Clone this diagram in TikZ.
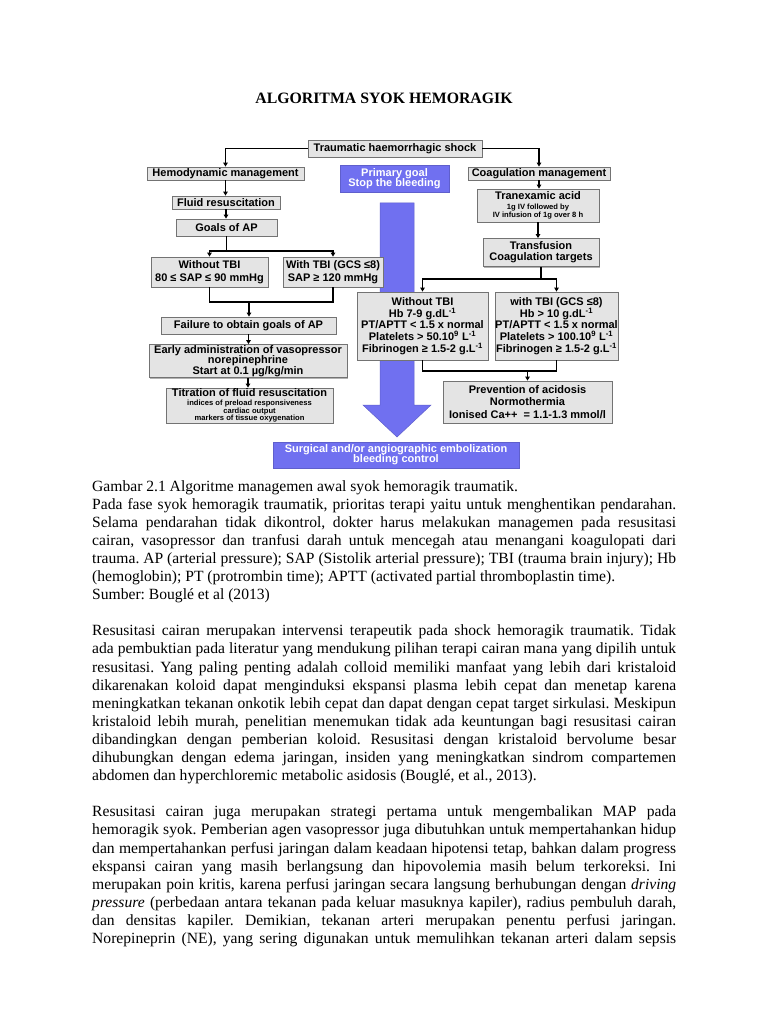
\documentclass[tikz,border=0pt]{standalone}
\usepackage{fontspec}
\setmainfont{Liberation Serif}
\newfontfamily\arialf{Liberation Sans}
\usetikzlibrary{arrows.meta,shadows}
\definecolor{boxgray}{RGB}{228,228,228}
\definecolor{boxedge}{RGB}{115,115,115}
\definecolor{blueb}{RGB}{112,112,240}
\newcommand\jline[1]{\hbox to 584pt{#1}}
\newcommand\lline[1]{\hbox{#1}}
\newcommand\smf{\fontsize{7.6}{8}\selectfont}
\begin{document}
\begin{tikzpicture}[x=1pt,y=-1pt,
  gbox/.style={draw=boxedge, fill=boxgray, line width=0.8pt, inner sep=0pt, align=center,
    font=\arialf\bfseries\fontsize{11}{12.8}\selectfont, text=black,
    drop shadow={shadow xshift=1.2pt, shadow yshift=-1.2pt, opacity=0.3, fill=black}},
  bbox/.style={fill=blueb, draw=blueb!85!black, line width=0.6pt, inner sep=0pt, align=center,
    text=white, font=\arialf\bfseries\fontsize{11}{12.8}\selectfont},
  conn/.style={draw=black, line width=1.2pt, -{Triangle[length=4pt,width=4.5pt]}},
  link/.style={draw=black, line width=1.2pt},
  bigarrow/.style={fill=blueb, draw=blueb!85!black, line width=0.5pt}
]
\useasboundingbox (0,0) rectangle (768,1024);
\fill[white] (0,0) rectangle (768,1024);

% title
\node[font=\bfseries\fontsize{15.8}{18}\selectfont, inner sep=0pt] (title) at (384,98) {ALGORITMA SYOK HEMORAGIK};

% big blue arrow
\fill[bigarrow] (380,203) -- (414,203) -- (414,405) -- (431,405) -- (397,437) -- (363,405) -- (380,405) -- cycle;

% boxes
\node[gbox, minimum width=174pt, minimum height=17pt] (shock) at (395,148.5) {Traumatic haemorrhagic shock};
\node[gbox, minimum width=157pt, minimum height=13pt] (hemo) at (225.5,173.5) {Hemodynamic management};
\node[gbox, minimum width=108pt, minimum height=13pt] (fluid) at (226,202.5) {Fluid resuscitation};
\node[gbox, minimum width=101pt, minimum height=17pt] (goals) at (226.5,227.5) {Goals of AP};
\node[gbox, minimum width=117pt, minimum height=30pt] (wo1) at (209.5,272) {Without TBI\\[0.5pt]80 ≤ SAP ≤ 90 mmHg};
\node[gbox, minimum width=100pt, minimum height=30pt] (w1) at (333,272) {With TBI (GCS ≤8)\\[0.5pt]SAP ≥ 120 mmHg};
\node[gbox, minimum width=175pt, minimum height=17pt] (fail) at (248.5,325.5) {Failure to obtain goals of AP};
\node[gbox, minimum width=198pt, minimum height=33pt] (early) at (248,361) {Early administration of vasopressor\\[-2.6pt]norepinephrine\\[-2.6pt]Start at 0.1 µg/kg/min};
\node[gbox, minimum width=167pt, minimum height=35pt] (titr) at (249.5,405.5) {Titration of fluid resuscitation\\[-3.8pt]{\smf indices of preload responsiveness}\\[-5.6pt]{\smf cardiac output}\\[-5.6pt]{\smf markers of tissue oxygenation}};

\node[bbox, minimum width=109pt, minimum height=27pt] (goal) at (394.5,178.5) {Primary goal\\[-2.8pt]Stop the bleeding};
\node[bbox, minimum width=246pt, minimum height=26pt] (surg) at (396,455) {Surgical and/or angiographic embolization\\[-2.8pt]bleeding control};

\node[gbox, minimum width=142pt, minimum height=13pt] (coag) at (539,173.5) {Coagulation management};
\node[gbox, minimum width=122pt, minimum height=33pt] (tranex) at (538,205.5) {Tranexamic acid\\[-2.8pt]{\smf 1g IV followed by}\\[-5.2pt]{\smf IV infusion of 1g over 8 h}};
\node[gbox, minimum width=116pt, minimum height=28pt] (transf) at (541,252.5) {Transfusion\\[-1.8pt]Coagulation targets};
\node[gbox, minimum width=131pt, minimum height=68pt] (wo2) at (422.5,326) {Without TBI\\[-1pt]Hb 7-9 g.dL\textsuperscript{-1}\\[-1pt]PT/APTT < 1.5 x normal\\[-1pt]Platelets > 50.10\textsuperscript{9} L\textsuperscript{-1}\\[-1pt]Fibrinogen ≥ 1.5-2 g.L\textsuperscript{-1}};
\node[gbox, minimum width=123pt, minimum height=68pt] (w2) at (556.5,326) {with TBI (GCS ≤8)\\[-1pt]Hb > 10 g.dL\textsuperscript{-1}\\[-1pt]PT/APTT < 1.5 x normal\\[-1pt]Platelets > 100.10\textsuperscript{9} L\textsuperscript{-1}\\[-1pt]Fibrinogen ≥ 1.5-2 g.L\textsuperscript{-1}};
\node[gbox, minimum width=169pt, minimum height=42pt] (prev) at (527.5,402) {Prevention of acidosis\\[-0.3pt]Normothermia\\[-0.3pt]Ionised Ca++ \ = 1.1-1.3 mmol/l};

% connectors
\draw[conn] (shock.west) -| (hemo.north);
\draw[conn] (shock.east) -| (coag.north);
\draw[conn] (hemo.south) -- (hemo.south |- fluid.north);
\draw[conn] (fluid.south) -- (fluid.south |- goals.north);
\path (goals.south |- 0,251) coordinate (j1);
\draw[link] (goals.south) -- (j1);
\draw[conn] (j1) -| (wo1.north);
\draw[conn] (j1) -| (w1.north);
\coordinate (j2) at (249,302);
\draw[link] (wo1.south) |- (j2);
\draw[link] (w1.south) |- (j2);
\draw[conn] (j2) -- (j2 |- fail.north);
\draw[conn] (fail.south) -- (fail.south |- early.north);
\draw[conn] (early.south) -- (early.south |- titr.north);
\draw[conn] (coag.south) -- (coag.south |- tranex.north);
\draw[conn] (tranex.south) -- (tranex.south |- transf.north);
\path (transf.south |- 0,279) coordinate (j3);
\draw[link] (transf.south) -- (j3);
\draw[conn] (j3) -| (wo2.north);
\draw[conn] (j3) -| (w2.north);
\coordinate (j4) at (527.5,371);
\draw[link] (wo2.south) |- (j4);
\draw[link] (w2.south) |- (j4);
\draw[conn] (j4) -- (prev.north);

% body text
\node[anchor=base west, inner sep=0pt] (body) at (92,491) {\vtop{\fontsize{15.6}{18.1}\selectfont\frenchspacing\hsize=584pt
\lline{Gambar 2.1 Algoritme managemen awal syok hemoragik traumatik.}
\jline{Pada fase syok hemoragik traumatik, prioritas terapi yaitu untuk menghentikan pendarahan.}
\jline{Selama pendarahan tidak dikontrol, dokter harus melakukan managemen pada resusitasi}
\jline{cairan, vasopressor dan tranfusi darah untuk mencegah atau menangani koagulopati dari}
\jline{trauma. AP (arterial pressure); SAP (Sistolik arterial pressure); TBI (trauma brain injury); Hb}
\lline{(hemoglobin); PT (protrombin time); APTT (activated partial thromboplastin time).}
\lline{Sumber: Bouglé et al (2013)}
\lline{}
\jline{Resusitasi cairan merupakan intervensi terapeutik pada shock hemoragik traumatik. Tidak}
\jline{ada pembuktian pada literatur yang mendukung pilihan terapi cairan mana yang dipilih untuk}
\jline{resusitasi. Yang paling penting adalah colloid memiliki manfaat yang lebih dari kristaloid}
\jline{dikarenakan koloid dapat menginduksi ekspansi plasma lebih cepat dan menetap karena}
\jline{meningkatkan tekanan onkotik lebih cepat dan dapat dengan cepat target sirkulasi. Meskipun}
\jline{kristaloid lebih murah, penelitian menemukan tidak ada keuntungan bagi resusitasi cairan}
\jline{dibandingkan dengan pemberian koloid. Resusitasi dengan kristaloid bervolume besar}
\jline{dihubungkan dengan edema jaringan, insiden yang meningkatkan sindrom compartemen}
\lline{abdomen dan hyperchloremic metabolic asidosis (Bouglé, et al., 2013).}
\lline{}
\jline{Resusitasi cairan juga merupakan strategi pertama untuk mengembalikan MAP pada}
\jline{hemoragik syok. Pemberian agen vasopressor juga dibutuhkan untuk mempertahankan hidup}
\jline{dan mempertahankan perfusi jaringan dalam keadaan hipotensi tetap, bahkan dalam progress}
\jline{ekspansi cairan yang masih berlangsung dan hipovolemia masih belum terkoreksi. Ini}
\jline{merupakan poin kritis, karena perfusi jaringan secara langsung berhubungan dengan \textit{driving}}
\jline{\textit{pressure} (perbedaan antara tekanan pada keluar masuknya kapiler), radius pembuluh darah,}
\jline{dan densitas kapiler. Demikian, tekanan arteri merupakan penentu perfusi jaringan.}
\jline{Norepineprin (NE), yang sering digunakan untuk memulihkan tekanan arteri dalam sepsis}
}};
\end{tikzpicture}
\end{document}
